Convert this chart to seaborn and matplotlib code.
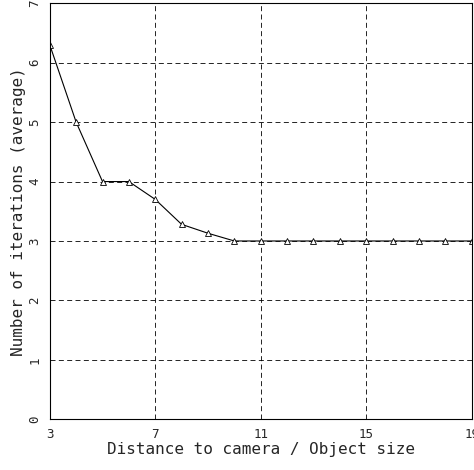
import numpy as np
import seaborn as sns
import matplotlib.pyplot as plt

distance = [3, 4, 5, 6, 7, 8, 9, 10, 11, 12, 13, 14, 15, 16, 17, 18, 19]
iterations = [6.3, 5.0, 4.0, 4.0, 3.7, 3.28, 3.13, 3.0, 3.0, 3.0, 3.0, 3.0, 3.0, 3.0, 3.0, 3.0, 3.0]

sns.set_style("ticks")
plt.rcParams['font.family'] = ['DejaVu Sans Mono', 'DejaVu Sans']

fig = plt.figure(figsize=(4.74, 4.70), dpi=100)
ax = fig.add_axes([0.105, 0.108, 0.89, 0.885])
sns.lineplot(x=distance, y=iterations, ax=ax, color='black', linewidth=0.8,
             marker='^', markersize=5, markerfacecolor='white',
             markeredgecolor='black', markeredgewidth=0.6)

ax.set_xlim(3, 19)
ax.set_ylim(0, 7)
ax.set_xticks([3, 7, 11, 15, 19])
ax.set_yticks(range(8))
ax.grid(True, color='black', linestyle=(0, (6, 4)), linewidth=0.6)
for lbl in ax.get_yticklabels():
    lbl.set_rotation(90)
    lbl.set_va('center')
ax.tick_params(labelsize=9, length=0, pad=6)
for s in ax.spines.values():
    s.set_color('black')
    s.set_linewidth(0.8)
ax.set_xlabel('Distance to camera / Object size', fontsize=11.5, labelpad=1)
ax.set_ylabel('Number of iterations (average)', fontsize=11.5, labelpad=2)

fig.savefig('out.png', dpi=100)
